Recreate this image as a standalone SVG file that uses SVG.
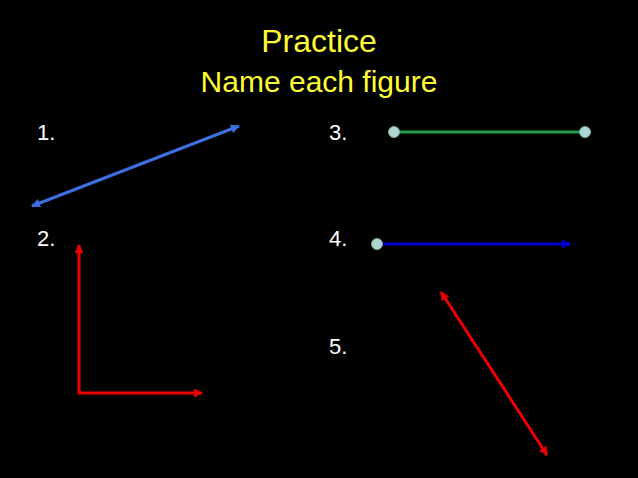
<svg xmlns="http://www.w3.org/2000/svg" width="638" height="478" viewBox="0 0 638 478">
<style>
text{font-family:"Liberation Sans",Arial,sans-serif}
.t{fill:#ffff33;text-anchor:middle}
.n{fill:#fff;font-size:22px}
.ln{stroke-width:3;fill:none}
.pt{fill:#aed6d2;stroke:#7fa6a3;stroke-width:1}
</style>
<defs>
<marker id="ab" viewBox="0 0 10 10" refX="9" refY="5" markerWidth="3" markerHeight="3" orient="auto-start-reverse"><path d="M0,0L10,5L0,10z" fill="#3d6fe0"/></marker>
<marker id="ar" viewBox="0 0 10 10" refX="9" refY="5" markerWidth="3" markerHeight="3" orient="auto-start-reverse"><path d="M0,0L10,5L0,10z" fill="#e00"/></marker>
<marker id="ad" viewBox="0 0 10 10" refX="9" refY="5" markerWidth="3" markerHeight="3" orient="auto-start-reverse"><path d="M0,0L10,5L0,10z" fill="#0000cc"/></marker>
</defs>
<rect width="638" height="478" fill="#000"/>
<g id="title"><text class="t" x="319" y="52" font-size="32">Practice</text><text class="t" x="319" y="92" font-size="30">Name each figure</text></g>
<g id="labels">
<text class="n" x="37" y="140">1.</text><text class="n" x="37" y="246">2.</text>
<text class="n" x="329" y="140">3.</text><text class="n" x="329" y="246">4.</text><text class="n" x="329" y="354">5.</text>
</g>
<g id="connectors">
<line id="f1" class="ln" x1="32" y1="206" x2="239" y2="126" stroke="#3d6fe0" marker-start="url(#ab)" marker-end="url(#ab)"/>
<polyline id="f2" class="ln" points="79,245 79,393 202,393" stroke="#e00" marker-start="url(#ar)" marker-end="url(#ar)"/>
<line id="f3" class="ln" x1="394" y1="132" x2="585" y2="132" stroke="#1fa050"/>
<line id="f4" class="ln" x1="377" y1="244" x2="570" y2="244" stroke="#0000cc" marker-end="url(#ad)"/>
<line id="f5" class="ln" x1="441" y1="292" x2="547" y2="455" stroke="#e00" marker-start="url(#ar)" marker-end="url(#ar)"/>
</g>
<g id="points"><circle class="pt" cx="394" cy="132" r="5.5"/><circle class="pt" cx="585" cy="132" r="5.5"/><circle class="pt" cx="377" cy="244" r="5.5"/></g>
</svg>
